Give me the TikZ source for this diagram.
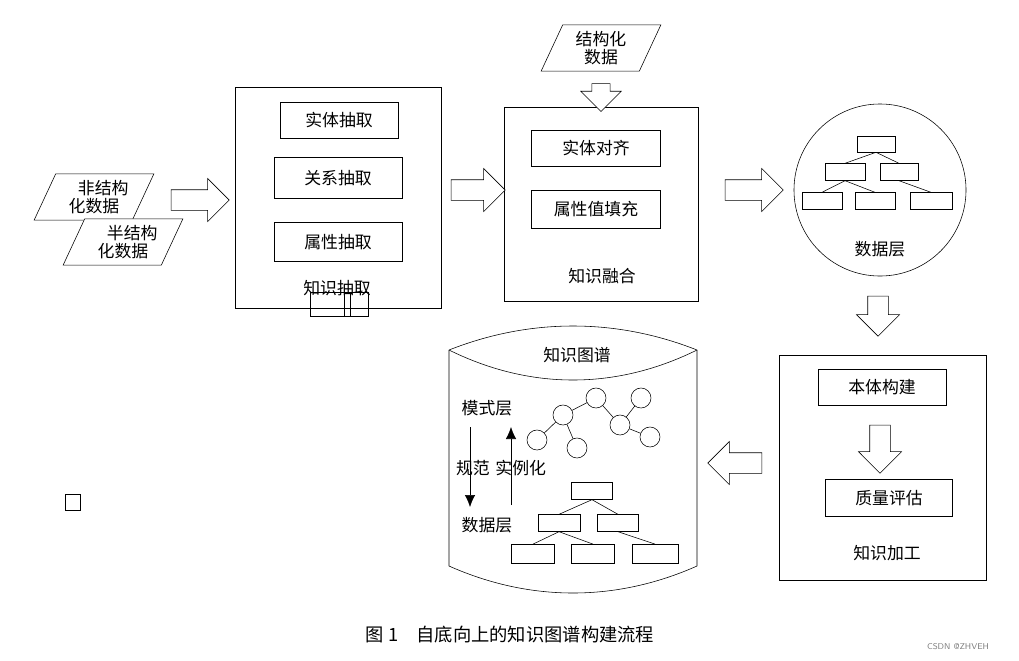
\documentclass[tikz,border=0pt]{standalone}
\usepackage{fontspec}
\newfontfamily\cjk{Noto Sans CJK SC}
\usetikzlibrary{shapes.geometric,shapes.arrows,positioning,arrows.meta}
\tikzstyle{box} = [draw, fill=white, inner sep=0pt, font=\cjk\fontsize{12}{13}\selectfont]
\tikzstyle{leaf} = [draw, fill=white, inner sep=0pt, minimum width=1cm, minimum height=0.42cm]
\tikzstyle{para} = [draw, fill=white, trapezium, trapezium left angle=65, trapezium right angle=115, minimum width=3cm, minimum height=1.15cm, inner sep=0pt, align=center, font=\cjk\fontsize{12}{13}\selectfont, text width=1.4cm]
\tikzstyle{fat} = [draw, fill=white, single arrow, minimum height=1.45cm, inner xsep=0pt, inner ysep=0.25cm, single arrow head extend=0.28cm]
\tikzstyle{dot} = [draw, circle, fill=white, minimum size=0.5cm, inner sep=0pt]
\tikzstyle{lbl} = [font=\cjk\fontsize{12}{13}\selectfont]
\begin{document}
\begin{tikzpicture}[x=0.025cm,y=-0.025cm]
\useasboundingbox (0,0) rectangle (1019,660);
% sources
\node[para] (U) at (94,197) {\hspace*{3mm}非结构\\化数据};
\node[para] (S) at (123,242) {\hspace*{3mm}半结构\\化数据};
\node[para] (T) at (601,48) {结构化\\数据};
% extraction
\draw (235,87) rectangle (441,308);
\node[box, minimum width=2.95cm, minimum height=0.9cm] (E1) at (339,120) {实体抽取};
\node[box, minimum width=3.2cm, minimum height=1.02cm] (E2) at (338,178) {关系抽取};
\node[box, minimum width=3.2cm, minimum height=0.98cm] (E3) at (338,242) {属性抽取};
\node[lbl] (Ex) at (337,288) {知识抽取};
\draw (310,292) rectangle (344,316) (344,292) rectangle (350,316) (350,292) rectangle (368,316);
% fusion
\draw (504,107) rectangle (698,301);
\node[box, minimum width=3.22cm, minimum height=0.9cm] (F1) at (596,148) {实体对齐};
\node[box, minimum width=3.22cm, minimum height=0.95cm] (F2) at (596,209) {属性值填充};
\node[lbl] (Fx) at (602,276) {知识融合};
% data layer circle
\node[draw, circle, minimum size=4.3cm] (C) at (880,190) {};
\node[leaf, minimum width=0.95cm, minimum height=0.4cm] (c0) at (876,144) {};
\node[leaf] (c1) at (845,172) {};
\node[leaf, minimum width=0.95cm] (c2) at (899,172) {};
\node[leaf] (c3) at (822,201) {};
\node[leaf] (c4) at (875,201) {};
\node[leaf, minimum width=1.05cm] (c5) at (931,201) {};
\draw (c0.south) -- (c1.north) (c0.south) -- (c2.north);
\draw (c1.south) -- (c3.north) (c1.south) -- (c4.north) (c2.south) -- (c5.north);
\node[lbl] (Cx) at (880,249) {数据层};
% processing
\draw (779,355) rectangle (986,580);
\node[box, minimum width=3.2cm, minimum height=0.9cm] (P1) at (882,387) {本体构建};
\node[box, minimum width=3.18cm, minimum height=0.92cm] (P2) at (889,498) {质量评估};
\node[lbl] (Px) at (887,553) {知识加工};
% knowledge graph cylinder
\draw (449,350) .. controls (530,318) and (616,318) .. (697,350);
\draw (449,350) .. controls (530,390) and (616,390) .. (697,350);
\draw (449,350) -- (449,566) .. controls (530,602) and (616,602) .. (697,566) -- (697,350);
\node[lbl] (G) at (577,355) {知识图谱};
\node[lbl] (M) at (487,408) {模式层};
\node[lbl] (D) at (487,525) {数据层};
\node[lbl] (N) at (501,468) {规范\,\,实例化};
\draw[-{Latex[length=3mm,width=2.6mm]}] (470,427) -- (470,507);
\draw[-{Latex[length=3mm,width=2.6mm]}] (511,505) -- (511,427);
\node[dot] (g1) at (537,440) {};
\node[dot] (g2) at (563,415) {};
\node[dot] (g3) at (596,398) {};
\node[dot] (g4) at (641,398) {};
\node[dot] (g5) at (620,425) {};
\node[dot] (g6) at (650,437) {};
\node[dot] (g7) at (577,448) {};
\draw (g1) -- (g2) -- (g3) -- (g5) -- (g4) (g5) -- (g6) (g2) -- (g7);
\node[leaf, minimum width=1.03cm] (k0) at (592,491) {};
\node[leaf, minimum width=1.05cm] (k1) at (559,523) {};
\node[leaf, minimum width=1.03cm] (k2) at (618,523) {};
\node[leaf, minimum width=1.08cm, minimum height=0.48cm] (k3) at (533,554) {};
\node[leaf, minimum width=1.08cm, minimum height=0.48cm] (k4) at (593,554) {};
\node[leaf, minimum width=1.15cm, minimum height=0.48cm] (k5) at (655,554) {};
\draw (k0.south) -- (k1.north) (k0.south) -- (k2.north);
\draw (k1.south) -- (k3.north) (k1.south) -- (k4.north) (k2.south) -- (k5.north);
% block arrows
\node[fat] (a1) at (195,200) {};
\node[fat, minimum height=1.35cm] (a2) at (473,190) {};
\node[fat] (a3) at (749,190) {};
\node[fat, rotate=-90, minimum height=0.7cm, inner ysep=0.22cm] (a4) at (601,93) {};
\node[fat, rotate=-90, minimum height=1.0cm] (a5) at (878,311) {};
\node[fat, rotate=-90, minimum height=1.2cm] (a6) at (880,444) {};
\node[fat, rotate=180, minimum height=1.35cm] (a7) at (740,463) {};
% misc
\draw (65,494) rectangle (80,510);
\node[lbl, font=\cjk\fontsize{13}{14}\selectfont] (cap) at (510,635) {图 1\quad 自底向上的知识图谱构建流程};
\node[font=\sffamily\fontsize{6}{7}\selectfont, text=gray] (w) at (958,647) {CSDN @ZHVEH};
\end{tikzpicture}
\end{document}
